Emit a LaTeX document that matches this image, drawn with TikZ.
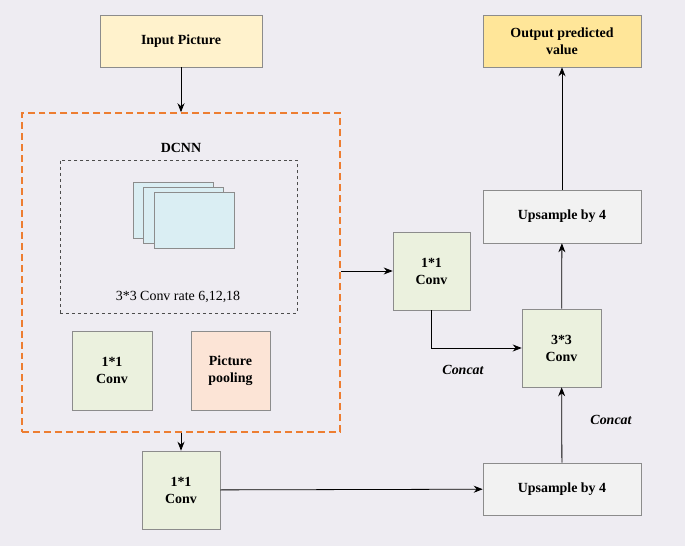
\documentclass[tikz,border=0pt]{standalone}
\usepackage{fontspec}
\setmainfont{Liberation Serif}
\usetikzlibrary{arrows.meta}
\begin{document}
\begin{tikzpicture}[x=1bp,y=-1bp,
 box/.style={draw=black!45,line width=0.6pt,font=\fontsize{14}{17}\selectfont\bfseries,align=center,inner sep=0pt},
 arr/.style={-{Stealth[length=9bp,width=7bp]},line width=0.8pt},
 lbl/.style={font=\fontsize{14}{17}\selectfont\bfseries}]
\fill[fill={rgb,255:red,238;green,236;blue,242}] (0,0) rectangle (685,546);
\useasboundingbox (0,0) rectangle (685,546);
\node[box,fill={rgb,255:red,255;green,242;blue,204},minimum width=162bp,minimum height=52bp] (in) at (181,41) {Input Picture};
\node[draw={rgb,255:red,237;green,125;blue,49},dashed,dash pattern=on 7pt off 4pt,line width=1.5pt,minimum width=318bp,minimum height=319bp,inner sep=0pt] (dc) at (181,272.5) {};
\node[lbl] (dl) at (181,148) {DCNN};
\node[draw=black!70,dashed,line width=0.7pt,minimum width=237bp,minimum height=153bp,inner sep=0pt] (db) at (178.5,236.5) {};
\foreach \o/\n in {0/s1,1/s2,2/s3}
 \node[draw=black!45,fill={rgb,255:red,218;green,238;blue,243},minimum width=80bp,minimum height=56bp,inner sep=0pt] (\n) at (173+10.5*\o,210+5*\o) {};
\node[font=\fontsize{14}{17}\selectfont] (cr) at (178,297) {3*3 Conv rate 6,12,18};
\node[box,fill={rgb,255:red,235;green,241;blue,222},minimum width=80bp,minimum height=79bp] (c1) at (112,370.5) {1*1\\Conv};
\node[box,fill={rgb,255:red,252;green,228;blue,214},minimum width=79bp,minimum height=79bp] (pp) at (230.5,370.5) {Picture\\pooling};
\node[box,fill={rgb,255:red,235;green,241;blue,222},minimum width=77bp,minimum height=78bp] (c2) at (431.5,271) {1*1\\Conv};
\node[box,fill={rgb,255:red,235;green,241;blue,222},minimum width=79bp,minimum height=78bp] (c3) at (561.5,348) {3*3\\Conv};
\node[box,fill={rgb,255:red,242;green,242;blue,242},minimum width=158bp,minimum height=53bp] (u1) at (562,216.5) {Upsample by 4};
\node[box,fill={rgb,255:red,255;green,230;blue,153},minimum width=158bp,minimum height=52bp] (out) at (562,41) {Output predicted\\value};
\node[box,fill={rgb,255:red,235;green,241;blue,222},minimum width=78bp,minimum height=78bp] (c4) at (181,490) {1*1\\Conv};
\node[box,fill={rgb,255:red,242;green,242;blue,242},minimum width=158bp,minimum height=52bp] (u2) at (562,489) {Upsample by 4};
\node[font=\fontsize{14}{17}\selectfont\bfseries\itshape] (k1) at (463,370) {Concat};
\node[font=\fontsize{14}{17}\selectfont\bfseries\itshape] (k2) at (611,420) {Concat};
\draw[arr] (in) -- (dc.north);
\draw[arr] (dc.east |- c2) -- (c2);
\draw[arr] (c2.south) |- (c3.west);
\draw[arr] (c3) -- (u1);
\draw[arr] (u1) -- (out);
\draw[arr] (dc.south) -- (c4.north);
\draw[arr] (c4) -- (u2);
\draw[arr] (u2) -- (c3);
\end{tikzpicture}
\end{document}
